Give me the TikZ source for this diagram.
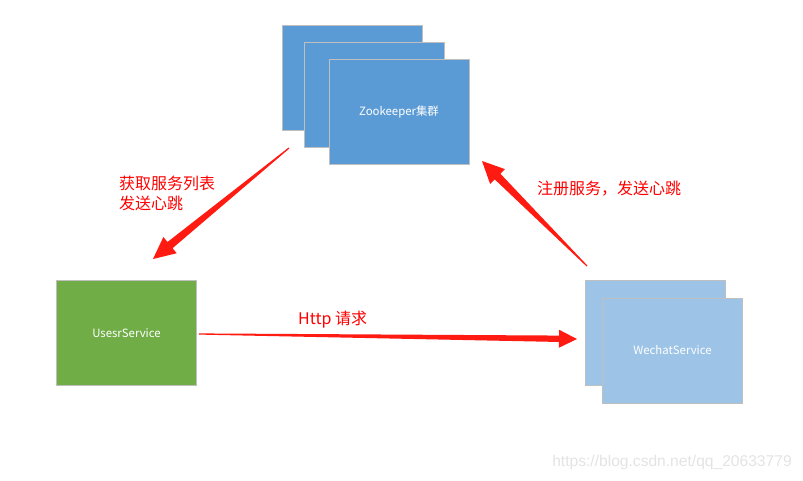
\documentclass[tikz,border=0pt]{standalone}
\usepackage{fontspec}
\newfontfamily\cjk{Noto Sans CJK SC}
\newfontfamily\wmfont{Liberation Sans}
\usetikzlibrary{calc}
\definecolor{zkblue}{HTML}{5B9BD5}
\definecolor{usergreen}{HTML}{70AD47}
\definecolor{wxblue}{HTML}{9DC3E6}
\definecolor{boxgray}{HTML}{BFBFBF}
\definecolor{arrowred}{HTML}{FF1A12}
\definecolor{labelred}{HTML}{FF0000}
\definecolor{wmgray}{HTML}{E4E4E4}
\newcommand\redarrow[5]{% tail, tip, head length, head half width, shaft half width
  \coordinate (#1-b) at ($(#2)!#3!(#1)$);
  \fill[arrowred] ($(#1)!0.6pt!90:(#2)$) -- ($(#1-b)!#5!90:(#2)$) -- ($(#1-b)!#4!90:(#2)$)
    -- (#2) -- ($(#1-b)!#4!-90:(#2)$) -- ($(#1-b)!#5!-90:(#2)$) -- ($(#1)!0.6pt!-90:(#2)$) -- cycle;}
\begin{document}
\begin{tikzpicture}[x=1pt,y=-1pt,
  box/.style={draw=boxgray, line width=0.9pt, minimum width=140pt, minimum height=105pt,
    inner sep=0pt, text=white, font=\cjk\fontsize{11.4}{13}\selectfont},
  lbl/.style={text=labelred, font=\cjk\fontsize{16}{20}\selectfont, inner sep=0pt, anchor=west, align=left}]
\useasboundingbox[fill=white] (0,0) rectangle (803,480);
% Zookeeper cluster
\node[box, fill=zkblue] (zk1) at (352,77.5) {};
\node[box, fill=zkblue] (zk2) at (374.5,94.5) {};
\node[box, fill=zkblue] (zk3) at (399,111.5) {Zookeeper集群};
% UserService
\node[box, fill=usergreen] (user) at (126.5,333) {UsesrService};
% WechatService
\node[box, fill=wxblue] (wx1) at (655.5,332.5) {};
\node[box, fill=wxblue] (wx2) at (672.5,350.5) {WechatService};
% connector end points
\coordinate (a1s) at (289,148);
\coordinate (a1t) at (153,259);
\coordinate (a2s) at (587,266);
\coordinate (a2t) at (482,161);
\coordinate (a3s) at (199,334);
\coordinate (a3t) at (577,339);
\redarrow{a1s}{a1t}{22pt}{10.5pt}{4pt}
\redarrow{a2s}{a2t}{22pt}{10.5pt}{4pt}
\redarrow{a3s}{a3t}{18pt}{9pt}{3.2pt}
% labels
\node[lbl] (l1) at (119,193) {获取服务列表\\发送心跳};
\node[lbl] (l2) at (537,189) {注册服务，发送心跳};
\node[lbl] (l3) at (298,320) {Http 请求};
% watermark
\node[text=wmgray, font=\wmfont\fontsize{15.6}{17}\selectfont, inner sep=0pt] (wm) at (672,462) {https://blog.csdn.net/qq\_20633779};
\end{tikzpicture}
\end{document}
